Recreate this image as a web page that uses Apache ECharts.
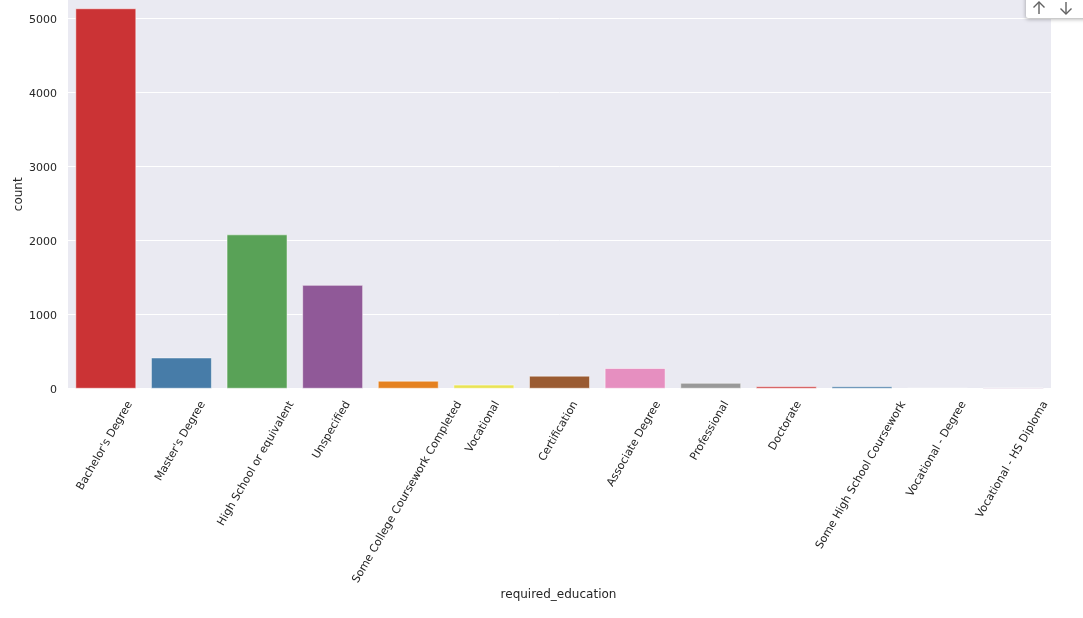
<!DOCTYPE html>
<html>
<head>
<meta charset="utf-8">
<style>
  html, body { margin: 0; padding: 0; background: #fff; }
  #chart { width: 1083px; height: 618px; }
</style>
<script src="https://cdn.jsdelivr.net/npm/echarts@6/dist/echarts.min.js"></script>
</head>
<body>
<div id="chart"></div>
<script>
const categories = [
  "Bachelor's Degree", "Master's Degree", 'High School or equivalent', 'Unspecified',
  'Some College Coursework Completed', 'Vocational', 'Certification', 'Associate Degree',
  'Professional', 'Doctorate', 'Some High School Coursework', 'Vocational - Degree',
  'Vocational - HS Diploma'
];
const counts = [5135, 416, 2080, 1397, 102, 49, 170, 274, 74, 26, 27, 6, 9];
const barColors = [
  '#cb3335', '#477ca8', '#59a257', '#905998', '#e5811f', '#e9e354', '#9a5b32',
  '#e68fc0', '#999999', '#cb3335', '#477ca8', '#59a257', '#905998'
];

const FONT = 'DejaVu Sans';
const TEXT_COLOR = '#262626';
const LABEL_SIZE = 11;
const LABEL_TOP = 399.5; // labels hang from here, centred under the tick like matplotlib does

const measure = document.createElement('canvas').getContext('2d');
measure.font = LABEL_SIZE + 'px "' + FONT + '"';

const chart = echarts.init(document.getElementById('chart'), null, { renderer: 'canvas' });

// rotated label, the bounding box is centred on the tick
function renderLabel(params, api) {
  const i = params.dataIndex;
  const x = api.coord([i, 0])[0];
  const len = measure.measureText(categories[i]).width;
  const h = len * Math.sin(Math.PI / 3) + LABEL_SIZE * Math.cos(Math.PI / 3);
  return {
    type: 'text',
    x: x - 1,
    y: LABEL_TOP + h / 2,
    rotation: Math.PI / 3,
    silent: true,
    style: {
      text: categories[i],
      font: LABEL_SIZE + 'px "' + FONT + '"',
      fill: TEXT_COLOR,
      align: 'center',
      verticalAlign: 'middle'
    }
  };
}

const option = {
  animation: false,
  backgroundColor: '#fff',
  textStyle: { fontFamily: FONT },
  grid: {
    left: 68, right: 32, top: 0, bottom: 229.5,
    outerBoundsMode: 'none',
    backgroundColor: '#eaeaf2', show: true, borderWidth: 0
  },
  xAxis: {
    type: 'category',
    data: categories,
    name: 'required_education',
    nameLocation: 'middle',
    nameGap: 200,
    nameTextStyle: { color: TEXT_COLOR, fontSize: 12, fontFamily: FONT, padding: [0, 2, 0, 0] },
    axisLine: { show: false },
    axisTick: { show: false },
    axisLabel: { show: false },
    splitLine: { show: false }
  },
  yAxis: {
    type: 'value',
    min: 0,
    max: 5250,
    interval: 1000,
    name: 'count',
    nameLocation: 'middle',
    nameGap: 43,
    nameMoveOverlap: false,
    nameTextStyle: { color: TEXT_COLOR, fontSize: 12, fontFamily: FONT },
    axisLine: { show: false },
    axisTick: { show: false },
    axisLabel: {
      color: TEXT_COLOR, fontSize: LABEL_SIZE, fontFamily: FONT, margin: 11, showMaxLabel: false,
      verticalAlign: 'top',
      lineHeight: 4,
      formatter: v => String(v)
    },
    splitLine: { show: true, showMaxLine: false, lineStyle: { color: '#ffffff', width: 1 } }
  },
  series: [
    {
      type: 'bar',
      barCategoryGap: '20%',
      data: counts.map((v, i) => ({
        value: v,
        itemStyle: { color: barColors[i], borderColor: '#ffffff', borderWidth: 0.5 }
      }))
    },
    {
      type: 'custom',
      coordinateSystem: 'cartesian2d',
      clip: false,
      silent: true,
      renderItem: renderLabel,
      data: categories.map((c, i) => [i, 0])
    }
  ],
  // the notebook's floating up/down buttons in the corner
  graphic: [
    {
      type: 'rect',
      z: 100,
      shape: { x: 1026, y: -6, width: 70, height: 24, r: 2 },
      style: { fill: '#ffffff', shadowBlur: 4, shadowColor: 'rgba(0,0,0,0.35)', shadowOffsetY: 1 }
    },
    {
      type: 'polyline',
      z: 101,
      shape: { points: [[1039, 14], [1039, 2]] },
      style: { stroke: '#616161', lineWidth: 1.4, fill: null }
    },
    {
      type: 'polyline',
      z: 101,
      shape: { points: [[1033.5, 7.5], [1039, 2], [1044.5, 7.5]] },
      style: { stroke: '#616161', lineWidth: 1.4, fill: null }
    },
    {
      type: 'polyline',
      z: 101,
      shape: { points: [[1066, 2], [1066, 14]] },
      style: { stroke: '#616161', lineWidth: 1.4, fill: null }
    },
    {
      type: 'polyline',
      z: 101,
      shape: { points: [[1060.5, 8.5], [1066, 14], [1071.5, 8.5]] },
      style: { stroke: '#616161', lineWidth: 1.4, fill: null }
    }
  ]
};

chart.setOption(option);
</script>
</body>
</html>
